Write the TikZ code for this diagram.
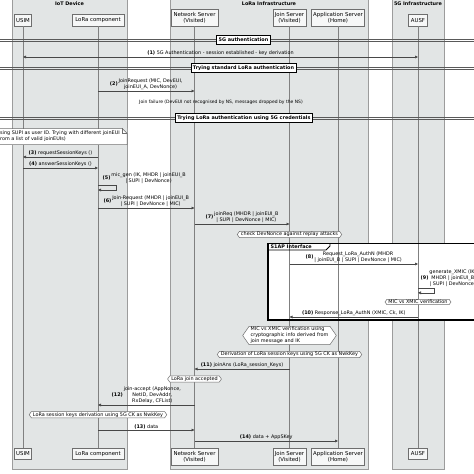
\documentclass[tikz,border=0pt]{standalone}
\usepackage{fontspec}
\setmainfont{DejaVu Sans}
\usetikzlibrary{arrows.meta,shapes.symbols,shadows}
\definecolor{grpfill}{HTML}{E2E5E5}
\definecolor{grpline}{HTML}{9C9C9C}
\definecolor{lifecol}{HTML}{808080}
\definecolor{msgcol}{HTML}{474747}
\definecolor{boxline}{HTML}{6E6E6E}
\definecolor{boxfill}{HTML}{F6F7F7}
\newcommand\mfont{\fontsize{4.9}{6.0}\selectfont}
\newcommand\pfont{\fontsize{5.4}{6}\selectfont}
\newcommand\bfont{\fontsize{4.9}{5.5}\selectfont\bfseries}
\newcommand\mlab[2]{\textbf{(#1)}\,\begin{tabular}{@{}c@{}}#2\end{tabular}}
\begin{document}
\begin{tikzpicture}[x=1pt,y=-1pt,
  >={Triangle[length=3pt,width=2.8pt]},
  grp/.style={fill=grpfill, draw=grpline, line width=0.7pt},
  grptitle/.style={font=\bfont, anchor=base, inner sep=0},
  pbox/.style={draw=boxline, fill=boxfill, line width=0.6pt, font=\pfont, align=center, inner sep=0, minimum height=11.5},
  pbox2/.style={pbox, minimum height=17},
  life/.style={draw=lifecol, line width=0.8pt},
  msg/.style={draw=msgcol, line width=0.6pt, ->},
  lbl/.style={font=\mfont, inner sep=0, above=0.8pt},
  slbl/.style={font=\mfont, inner sep=0, anchor=west},
  divline/.style={draw=black!65, line width=0.6pt},
  divlbl/.style={draw=black, fill=white, line width=0.8pt, font=\bfont, inner xsep=2pt, inner ysep=0pt, minimum height=8.3,
    drop shadow={shadow xshift=0.8pt, shadow yshift=-0.8pt, fill=black!55, opacity=1}},
  hnote/.style={shape=signal, signal to=west and east, signal pointer angle=110, draw=boxline, fill=white,
    line width=0.5pt, font=\mfont, inner xsep=1.5pt, inner ysep=0.8pt}
]
\useasboundingbox (0,0) rectangle (474,474);

% groups
\draw[grp] (12,-5) rectangle (127,469.5);
\draw[grp] (170,-5) rectangle (368,469.5);
\draw[grp] (392,-5) rectangle (444,469.5);
\node[grptitle] (tiot) at (69.5,5) {IoT Device};
\node[grptitle] (tlora) at (269,5) {LoRa Infrastructure};
\node[grptitle] (t5g) at (418,5) {5G Infrastructure};

% S1AP group background
\fill[white] (268,243.3) rectangle (490,320);

% participants (top)
\node[pbox, minimum width=17] (usim) at (23,20.25) {USIM};
\node[pbox, minimum width=52] (lora) at (98,20.25) {LoRa component};
\node[pbox2, minimum width=47] (ns) at (194.5,17.5) {Network Server\\(Visited)};
\node[pbox2, minimum width=33] (js) at (289.5,17.5) {Join Server\\(Visited)};
\node[pbox2, minimum width=53] (as) at (338,17.5) {Application Server\\(Home)};
\node[pbox, minimum width=19] (ausf) at (418,20.25) {AUSF};
% participants (bottom)
\node[pbox, minimum width=17] (usimB) at (23,453.75) {USIM};
\node[pbox, minimum width=52] (loraB) at (98,453.75) {LoRa component};
\node[pbox2, minimum width=47] (nsB) at (194.5,456.5) {Network Server\\(Visited)};
\node[pbox2, minimum width=33] (jsB) at (289.5,456.5) {Join Server\\(Visited)};
\node[pbox2, minimum width=53] (asB) at (338,456.5) {Application Server\\(Home)};
\node[pbox, minimum width=19] (ausfB) at (418,453.75) {AUSF};

% lifelines
\draw[life] (usim.south) -- (usimB.north);
\draw[life] (lora.south) -- (loraB.north);
\draw[life] (ns.south) -- (nsB.north);
\draw[life] (js.south) -- (jsB.north);
\draw[life] (as.south) -- (asB.north);
\draw[life] (ausf.south) -- (ausfB.north);

% S1AP group frame
\draw[line width=1.1pt] (268,243.3) rectangle (490,320);
\draw[line width=0.8pt] (268,250) -- (326,250) -- (330,246) -- (330,243.3);
\node[font=\bfont, anchor=base west, inner sep=0] (s1ap) at (270.5,248.5) {S1AP Interface};

% dividers
\foreach \yy in {40,68,118} {
  \draw[divline] (0,\yy-0.8) -- (474,\yy-0.8);
  \draw[divline] (0,\yy+0.8) -- (474,\yy+0.8);
}
\node[divlbl] (d1) at (243.5,40) {5G authentication};
\node[divlbl] (d2) at (243.5,68) {Trying standard LoRa authentication};
\node[divlbl] (d3) at (244,118) {Trying LoRa authentication using 5G credentials};

% messages
\draw[msg, <->] (usim |- 0,57) -- (ausf |- 0,57)
  node[lbl, midway] (m1) {\textbf{(1)} 5G Authentication - session established - key derivation};
\draw[msg] (lora |- 0,91) -- (ns |- 0,91)
  node[lbl, midway] (m2) {\mlab{2}{JoinRequest (MIC, DevEUI,\\ joinEUI\_A, DevNonce)}};
\node[font=\fontsize{4.5}{5}\selectfont, inner sep=0] (fail) at (221,102) {Join failure (DevEUI not recognised by NS, messages dropped by the NS)};

% note left
\node[font=\mfont, align=left, inner xsep=7pt, inner ysep=0pt, minimum height=16, fill=white, anchor=north east] (noteL) at (127,128.3)
  {Using SUPI as user ID. Trying with different joinEUI\\(from a list of valid joinEUIs)};
\fill[grpfill] (noteL.north east) -- ++(-5,0) -- ++(5,5) -- cycle;
\draw[draw=boxline, line width=0.5pt] (noteL.south west) -- (noteL.north west) -- ([xshift=-5pt]noteL.north east)
  -- ([yshift=-5pt]noteL.north east) -- (noteL.south east) -- cycle;
\draw[draw=boxline, line width=0.5pt] ([xshift=-5pt]noteL.north east) -- ++(0,5) -- ++(5,0);

\draw[msg] (lora |- 0,157) -- (usim |- 0,157)
  node[lbl, midway] (m3) {\textbf{(3)} requestSessionKeys ()};
\draw[msg] (usim |- 0,168) -- (lora |- 0,168)
  node[lbl, midway] (m4) {\textbf{(4)} answerSessionKeys ()};
\draw[msg] (lora |- 0,185) -- ++(18,0) -- ++(0,5) -- (lora |- 0,190);
\node[slbl] (m5) at (102.5,178) {\mlab{5}{mic\_gen (IK, MHDR | joinEUI\_B\\ | SUPI | DevNonce)}};
\draw[msg] (lora |- 0,208) -- (ns |- 0,208)
  node[lbl, midway] (m6) {\mlab{6}{Join-Request (MHDR | joinEUI\_B\\ | SUPI | DevNonce | MIC)}};
\draw[msg] (ns |- 0,224) -- (js |- 0,224)
  node[lbl, midway] (m7) {\mlab{7}{joinReq (MHDR | joinEUI\_B\\ | SUPI | DevNonce | MIC)}};
\node[hnote] (hn1) at (js |- 0,234.5) {check DevNonce against replay attacks};
\draw[msg] (js |- 0,264) -- (ausf |- 0,264)
  node[lbl, midway] (m8) {\mlab{8}{Request\_LoRa\_AuthN (MHDR\\ | joinEUI\_B | SUPI | DevNonce | MIC)}};
\draw[msg] (ausf |- 0,288.3) -- ++(16,0) -- ++(0,4.5) -- (ausf |- 0,292.8);
\node[slbl] (m9) at (420.5,278) {\mlab{9}{generate\_XMIC (IK,\\ MHDR | joinEUI\_B\\ | SUPI | DevNonce)}};
\node[hnote] (hn2) at (ausf |- 0,302) {MIC vs XMIC verification};
\draw[msg] (ausf |- 0,317) -- (js |- 0,317)
  node[lbl, midway] (m10) {\textbf{(10)} Response\_LoRa\_AuthN (XMIC, Ck, IK)};
\node[hnote, align=left] (hn3) at (js |- 0,335.5) {MIC vs XMIC verification using\\cryptographic info derived from\\join message and IK};
\node[hnote] (hn4) at (js |- 0,354.5) {Derivation of LoRa session keys using 5G CK as NwkKey};
\draw[msg] (js |- 0,369) -- (ns |- 0,369)
  node[lbl, midway] (m11) {\textbf{(11)} joinAns (LoRa\_session\_Keys)};
\node[hnote] (hn5) at (ns |- 0,379) {LoRa join accepted};
\draw[msg] (ns |- 0,405) -- (lora |- 0,405)
  node[lbl, midway] (m12) {\mlab{12}{join-accept (AppNonce,\\ NetID, DevAddr,\\ RxDelay, CFList)}};
\node[hnote] (hn6) at (lora |- 0,414.7) {LoRa session keys derivation using 5G CK as NwkKey};
\draw[msg] (lora |- 0,430) -- (ns |- 0,430)
  node[lbl, midway] (m13) {\textbf{(13)} data};
\draw[msg] (ns |- 0,441) -- (as |- 0,441)
  node[lbl, midway] (m14) {\textbf{(14)} data + AppSKey};
\end{tikzpicture}
\end{document}
